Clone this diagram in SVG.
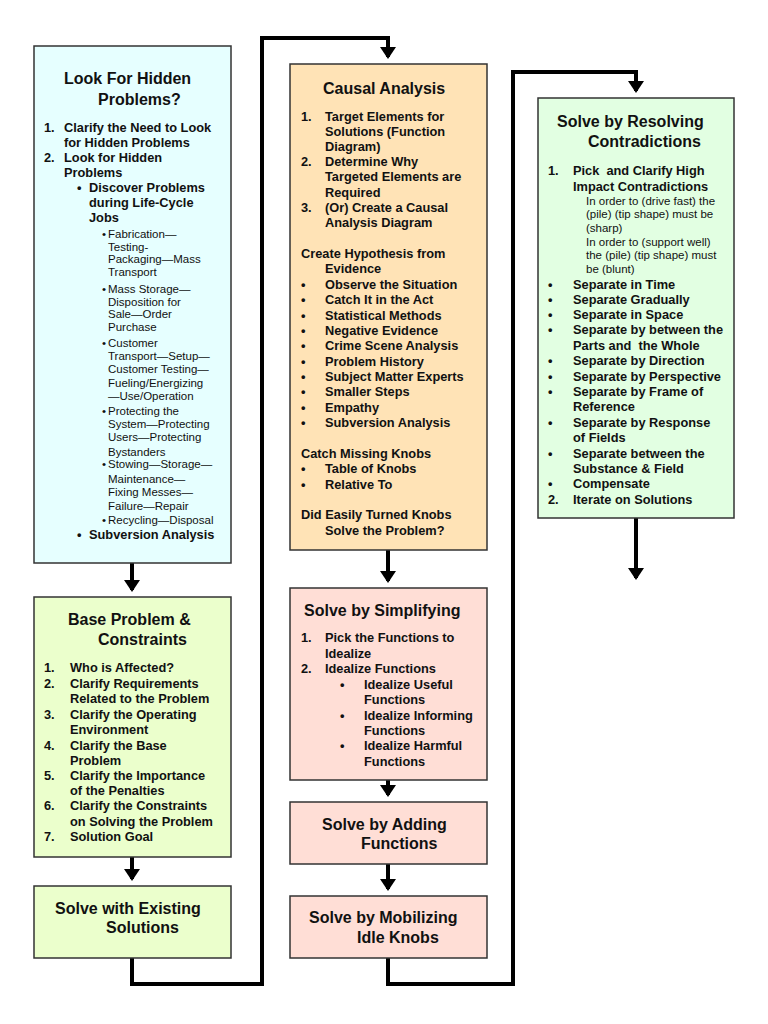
<svg xmlns="http://www.w3.org/2000/svg" width="768" height="1024" viewBox="0 0 768 1024">
<defs>
<style>
.box{stroke:#333;stroke-width:1.5}
.cyan{fill:#E6FFFF}
.lime{fill:#EBFFCC}
.orange{fill:#FFE3B6}
.pink{fill:#FFDED6}
.mint{fill:#E2FFE2}
text{font-family:"Liberation Sans",Arial,Helvetica,sans-serif;fill:#111}
.t{font-size:16px;font-weight:bold}
.b{font-size:12.8px;font-weight:bold}
.s{font-size:11.5px}
.pre{white-space:pre}
.con{fill:none;stroke:#000;stroke-width:4}
</style>
<marker id="ah" markerWidth="4" markerHeight="4" refX="2.5" refY="2" orient="auto" markerUnits="strokeWidth">
<path d="M0,0 L3,2 L0,4 Z" fill="#000"/>
</marker>
</defs>
<rect width="768" height="1024" fill="#fff"/>

<g id="connectors">
<path class="con" d="M132,563 V590" marker-end="url(#ah)"/>
<path class="con" d="M132,857 V879" marker-end="url(#ah)"/>
<path class="con" d="M132,958 V984 H262 V38 H388 V57" marker-end="url(#ah)"/>
<path class="con" d="M388,550 V581" marker-end="url(#ah)"/>
<path class="con" d="M388,780 V795" marker-end="url(#ah)"/>
<path class="con" d="M388,864 V889" marker-end="url(#ah)"/>
<path class="con" d="M388,958 V984 H513 V72 H636 V91" marker-end="url(#ah)"/>
<path class="con" d="M636,518 V578" marker-end="url(#ah)"/>
</g>

<g id="look-hidden">
<rect class="box cyan" x="34" y="46" width="197" height="517"/>
<text class="t" x="64" y="84">Look For Hidden</text>
<text class="t" x="98" y="105">Problems?</text>
<text class="b" x="44" y="132">1.</text><text class="b" x="64" y="132">Clarify the Need to Look</text>
<text class="b" x="64" y="147">for Hidden Problems</text>
<text class="b" x="44" y="162">2.</text><text class="b" x="64" y="162">Look for Hidden</text>
<text class="b" x="64" y="177">Problems</text>
<text class="b" x="77" y="192">•</text><text class="b" x="89" y="192">Discover Problems</text>
<text class="b" x="89" y="207">during Life-Cycle</text>
<text class="b" x="89" y="222">Jobs</text>
<text class="s" x="102" y="238">•</text><text class="s" x="108" y="238">Fabrication—</text>
<text class="s" x="108" y="251">Testing-</text>
<text class="s" x="108" y="263">Packaging—Mass</text>
<text class="s" x="108" y="276">Transport</text>
<text class="s" x="102" y="293">•</text><text class="s" x="108" y="293">Mass Storage—</text>
<text class="s" x="108" y="306">Disposition for</text>
<text class="s" x="108" y="318">Sale—Order</text>
<text class="s" x="108" y="331">Purchase</text>
<text class="s" x="102" y="347">•</text><text class="s" x="108" y="347">Customer</text>
<text class="s" x="108" y="360">Transport—Setup—</text>
<text class="s" x="108" y="373">Customer Testing—</text>
<text class="s" x="108" y="387">Fueling/Energizing</text>
<text class="s" x="108" y="400">—Use/Operation</text>
<text class="s" x="102" y="415">•</text><text class="s" x="108" y="415">Protecting the</text>
<text class="s" x="108" y="428">System—Protecting</text>
<text class="s" x="108" y="441">Users—Protecting</text>
<text class="s" x="108" y="456">Bystanders</text>
<text class="s" x="102" y="468">•</text><text class="s" x="108" y="468">Stowing—Storage—</text>
<text class="s" x="108" y="483">Maintenance—</text>
<text class="s" x="108" y="496">Fixing Messes—</text>
<text class="s" x="108" y="510">Failure—Repair</text>
<text class="s" x="102" y="524">•</text><text class="s" x="108" y="524">Recycling—Disposal</text>
<text class="b" x="77" y="539">•</text><text class="b" x="89" y="539">Subversion Analysis</text>
</g>

<g id="base-problem">
<rect class="box lime" x="34" y="597" width="197" height="260"/>
<text class="t" x="68" y="625">Base Problem &amp;</text>
<text class="t" x="98" y="645">Constraints</text>
<text class="b" x="44" y="672">1.</text><text class="b" x="70" y="672">Who is Affected?</text>
<text class="b" x="44" y="688">2.</text><text class="b" x="70" y="688">Clarify Requirements</text>
<text class="b" x="70" y="703">Related to the Problem</text>
<text class="b" x="44" y="719">3.</text><text class="b" x="70" y="719">Clarify the Operating</text>
<text class="b" x="70" y="734">Environment</text>
<text class="b" x="44" y="750">4.</text><text class="b" x="70" y="750">Clarify the Base</text>
<text class="b" x="70" y="765">Problem</text>
<text class="b" x="44" y="780">5.</text><text class="b" x="70" y="780">Clarify the Importance</text>
<text class="b" x="70" y="795">of the Penalties</text>
<text class="b" x="44" y="810">6.</text><text class="b" x="70" y="810">Clarify the Constraints</text>
<text class="b" x="70" y="826">on Solving the Problem</text>
<text class="b" x="44" y="841">7.</text><text class="b" x="70" y="841">Solution Goal</text>
</g>

<g id="existing-solutions">
<rect class="box lime" x="34" y="886" width="197" height="72"/>
<text class="t" x="55" y="914">Solve with Existing</text>
<text class="t" x="106" y="933">Solutions</text>
</g>

<g id="causal-analysis">
<rect class="box orange" x="290" y="64" width="197" height="486"/>
<text class="t" x="323" y="94">Causal Analysis</text>
<text class="b" x="301" y="121">1.</text><text class="b" x="325" y="121">Target Elements for</text>
<text class="b" x="325" y="136">Solutions (Function</text>
<text class="b" x="325" y="151">Diagram)</text>
<text class="b" x="301" y="166">2.</text><text class="b" x="325" y="166">Determine Why</text>
<text class="b" x="325" y="181">Targeted Elements are</text>
<text class="b" x="325" y="197">Required</text>
<text class="b" x="301" y="212">3.</text><text class="b" x="325" y="212">(Or) Create a Causal</text>
<text class="b" x="325" y="227">Analysis Diagram</text>
<text class="b" x="301" y="258">Create Hypothesis from</text>
<text class="b" x="325" y="273">Evidence</text>
<text class="b" x="301" y="289">•</text><text class="b" x="325" y="289">Observe the Situation</text>
<text class="b" x="301" y="304">•</text><text class="b" x="325" y="304">Catch It in the Act</text>
<text class="b" x="301" y="320">•</text><text class="b" x="325" y="320">Statistical Methods</text>
<text class="b" x="301" y="335">•</text><text class="b" x="325" y="335">Negative Evidence</text>
<text class="b" x="301" y="350">•</text><text class="b" x="325" y="350">Crime Scene Analysis</text>
<text class="b" x="301" y="366">•</text><text class="b" x="325" y="366">Problem History</text>
<text class="b" x="301" y="381">•</text><text class="b" x="325" y="381">Subject Matter Experts</text>
<text class="b" x="301" y="396">•</text><text class="b" x="325" y="396">Smaller Steps</text>
<text class="b" x="301" y="412">•</text><text class="b" x="325" y="412">Empathy</text>
<text class="b" x="301" y="427">•</text><text class="b" x="325" y="427">Subversion Analysis</text>
<text class="b" x="301" y="458">Catch Missing Knobs</text>
<text class="b" x="301" y="473">•</text><text class="b" x="325" y="473">Table of Knobs</text>
<text class="b" x="301" y="489">•</text><text class="b" x="325" y="489">Relative To</text>
<text class="b" x="301" y="519">Did Easily Turned Knobs</text>
<text class="b" x="325" y="535">Solve the Problem?</text>
</g>

<g id="simplifying">
<rect class="box pink" x="290" y="588" width="197" height="192"/>
<text class="t" x="304" y="616">Solve by Simplifying</text>
<text class="b" x="301" y="642">1.</text><text class="b" x="325" y="642">Pick the Functions to</text>
<text class="b" x="325" y="658">Idealize</text>
<text class="b" x="301" y="673">2.</text><text class="b" x="325" y="673">Idealize Functions</text>
<text class="b" x="340" y="689">•</text><text class="b" x="364" y="689">Idealize Useful</text>
<text class="b" x="364" y="704">Functions</text>
<text class="b" x="340" y="720">•</text><text class="b" x="364" y="720">Idealize Informing</text>
<text class="b" x="364" y="735">Functions</text>
<text class="b" x="340" y="750">•</text><text class="b" x="364" y="750">Idealize Harmful</text>
<text class="b" x="364" y="766">Functions</text>
</g>

<g id="adding-functions">
<rect class="box pink" x="290" y="802" width="197" height="62"/>
<text class="t" x="322" y="830">Solve by Adding</text>
<text class="t" x="361" y="849">Functions</text>
</g>

<g id="mobilizing">
<rect class="box pink" x="290" y="896" width="197" height="62"/>
<text class="t" x="309" y="923">Solve by Mobilizing</text>
<text class="t" x="357" y="943">Idle Knobs</text>
</g>

<g id="contradictions">
<rect class="box mint" x="538" y="98" width="196" height="420"/>
<text class="t" x="557" y="127">Solve by Resolving</text>
<text class="t" x="588" y="147">Contradictions</text>
<text class="b" x="548" y="175">1.</text><text class="b pre" x="573" y="175">Pick  and Clarify High</text>
<text class="b" x="573" y="191">Impact Contradictions</text>
<text class="s" x="586" y="205">In order to (drive fast) the</text>
<text class="s" x="586" y="218">(pile) (tip shape) must be</text>
<text class="s" x="586" y="232">(sharp)</text>
<text class="s" x="586" y="246">In order to (support well)</text>
<text class="s" x="586" y="259">the (pile) (tip shape) must</text>
<text class="s" x="586" y="273">be (blunt)</text>
<text class="b" x="548" y="289">•</text><text class="b" x="573" y="289">Separate in Time</text>
<text class="b" x="548" y="304">•</text><text class="b" x="573" y="304">Separate Gradually</text>
<text class="b" x="548" y="319">•</text><text class="b" x="573" y="319">Separate in Space</text>
<text class="b" x="548" y="334">•</text><text class="b" x="573" y="334">Separate by between the</text>
<text class="b pre" x="573" y="350">Parts and  the Whole</text>
<text class="b" x="548" y="365">•</text><text class="b" x="573" y="365">Separate by Direction</text>
<text class="b" x="548" y="381">•</text><text class="b" x="573" y="381">Separate by Perspective</text>
<text class="b" x="548" y="396">•</text><text class="b" x="573" y="396">Separate by Frame of</text>
<text class="b" x="573" y="411">Reference</text>
<text class="b" x="548" y="427">•</text><text class="b" x="573" y="427">Separate by Response</text>
<text class="b" x="573" y="442">of Fields</text>
<text class="b" x="548" y="458">•</text><text class="b" x="573" y="458">Separate between the</text>
<text class="b" x="573" y="473">Substance &amp; Field</text>
<text class="b" x="548" y="488">•</text><text class="b" x="573" y="488">Compensate</text>
<text class="b" x="548" y="504">2.</text><text class="b" x="573" y="504">Iterate on Solutions</text>
</g>
</svg>
